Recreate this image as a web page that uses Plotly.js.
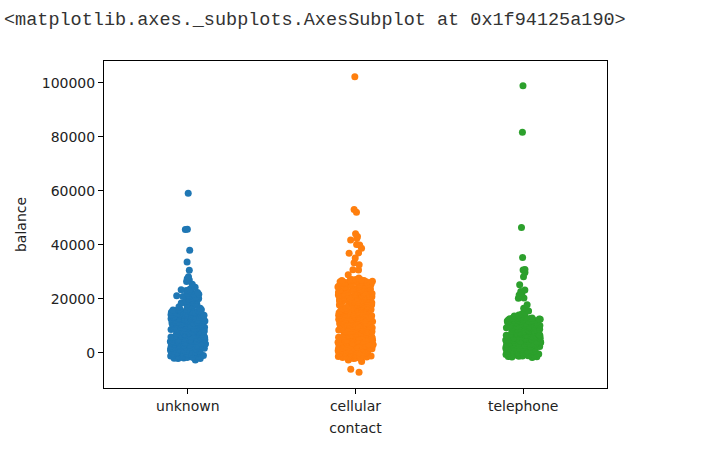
<!DOCTYPE html>
<html>
<head>
<meta charset="utf-8">
<script src="https://cdn.plot.ly/plotly-3.0.1.min.js"></script>
<style>html,body{margin:0;padding:0;background:#fff;}</style>
</head>
<body>
<div id="chart" style="width:716px;height:452px;"></div>
<script>
const categories = ['unknown', 'cellular', 'telephone'];
const colors = ['#1f77b4', '#ff7f0e', '#2ca02c'];
const yTicks = [0, 20000, 40000, 60000, 80000, 100000];

const unknownBalance = [
-2700, -2200, -2060, -1885, -1765, -1575, -1420, -1290, -1105, -960, -795, -670, -490, -340, -215, -35, 0, 0,
110, 240, 415, 560, 725, 850, 1030, 1185, 1310, 1475, 1620, 1805, 1930, 2110, 2255, 2390, 2575, 2710, 2880,
3005, 3190, 3345, 3475, 3660, 3805, 3970, 4095, 4275, 4425, 4560, 4745, 4890, 5055, 5180, 5360, 5510, 5645,
5830, 5975, 6140, 6265, 6445, 6595, 6730, 6915, 7060, 7225, 7350, 7530, 7680, 7815, 8000, 8145, 8310, 8435,
8615, 8765, 8900, 9085, 9230, 9395, 9520, 9700, 9850, 9985, 10170, 10315, 10480, 10605, 10785, 10935, 11070,
11255, 11400, 11565, 11690, 11870, 12020, 12155, 12340, 12485, 12650, 12775, 12955, 13105, 13240, 13425, 13570,
13735, 13860, 14040, 14190, 14325, 14510, 14655, 14820, 14945, 15125, 15275, 15410, 15595, 15740, 15905, 16030,
-2130, -1965, -1825, -1655, -1505, -1370, -1190, -1045, -885, -720, -580, -410, -260, -125, 55, 200, 360, 525,
665, 835, 985, 1120, 1300, 1445, 1605, 1770, 1910, 2080, 2230, 2365, 2545, 2690, 2850, 3015, 3155, 3325, 3475,
3610, 3790, 3935, 4095, 4260, 4400, 4570, 4720, 4855, 5035, 5180, 5340, 5505, 5645, 5815, 5965, 6100, 6280,
6425, 6585, 6750, 6890, 7060, 7210, 7345, 7525, 7670, 7830, 7995, 8135, 8305, 8455, 8590, 8770, 8915, 9075,
9240, 9380, 9550, 9700, 9835, 10015, 10160, 10320, 10485, 10625, 10795, 10945, 11080, 11260, 11405, 11565,
11730, 11870, 12040, 12190, 12325, 12505, 12650, 12810, 12975, 13115, 13285, 13435, 13570, 13750, 13895,
14055, 14220, 14360, 14530, 14680, 14815, 14995, 15140, 15300, 15465, 15605, 15775, 15925,
16200, 16400, 16600, 16900, 17000, 17350, 17500, 17800, 17900, 18250, 18400, 18700, 18900, 19100, 19300,
19600, 19850, 20000, 20200, 20400, 20750, 20900, 21100, 21300, 21650, 21800, 22100, 22300, 22600, 22800,
23050, 23300, 23600, 24200, 25300, 26300, 26900, 27400, 28100, 30500, 33600, 37900, 45600, 45700, 59000
];

const cellularBalance = [
-7300, -6200, -3300, -2700, -2200, -2060, -1885, -1765, -1575, -1420, -1290, -1105, -960, -795, -670, -490, -340,
-200, -25, 0, 0, 95, 250, 380, 565, 710, 875, 1000, 1180, 1330,
1470, 1645, 1765, 1955, 2110, 2240, 2425, 2570, 2735, 2860, 3040, 3190,
3330, 3505, 3625, 3815, 3970, 4100, 4285, 4430, 4595, 4720, 4900, 5050,
5190, 5365, 5485, 5675, 5830, 5960, 6145, 6290, 6455, 6580, 6760, 6910,
7050, 7225, 7345, 7535, 7690, 7820, 8005, 8150, 8315, 8440, 8620, 8770,
8910, 9085, 9205, 9395, 9550, 9680, 9865, 10010, 10175, 10300, 10480, 10630,
10770, 10945, 11065, 11255, 11410, 11540, 11725, 11870, 12035, 12160, 12340, 12490,
12630, 12805, 12925, 13115, 13270, 13400, 13585, 13730, 13895, 14020, 14200, 14350,
14490, 14665, 14785, 14975, 15130, 15260, 15445, 15590, 15755, 15880, 16060, 16210,
16350, 16525, 16645, 16835, 16990, 17120, 17305, 17450, 17615, 17740, 17920, 18070,
18210, 18385, 18505, 18695, 18850, 18980, 19165, 19310, 19475, 19600, 19780, 19930,
20070, 20245, 20365, 20555, 20710, 20840, 21025, 21170, 21335, 21460, 21640, 21790,
21930, 22105, 22225, 22415, 22570, 22700, 22885, 23030, 23195, 23320, 23500, 23650,
23790, 23965, 24085, 24275, 24430, 24560, 24745, 24890, 25055, 25180, 25360, 25510,
25650, 25825, 25945, 26135, 26290, 26420, 26605, 26750, 26915, 27040,
-2050, -1885, -1745, -1575, -1425, -1290, -1110, -965, -805, -640, -500, -330, -180, -45, 135, 280,
440, 605, 745, 915, 1065, 1200, 1380, 1525, 1685, 1850, 1990, 2160, 2310, 2445, 2625, 2770,
2930, 3095, 3235, 3405, 3555, 3690, 3870, 4015, 4175, 4340, 4480, 4650, 4800, 4935, 5115, 5260,
5420, 5585, 5725, 5895, 6045, 6180, 6360, 6505, 6665, 6830, 6970, 7140, 7290, 7425, 7605, 7750,
7910, 8075, 8215, 8385, 8535, 8670, 8850, 8995, 9155, 9320, 9460, 9630, 9780, 9915, 10095, 10240,
10400, 10565, 10705, 10875, 11025, 11160, 11340, 11485, 11645, 11810, 11950, 12120, 12270, 12405, 12585, 12730,
12890, 13055, 13195, 13365, 13515, 13650, 13830, 13975, 14135, 14300, 14440, 14610, 14760, 14895, 15075, 15220,
15380, 15545, 15685, 15855, 16005, 16140, 16320, 16465, 16625, 16790, 16930, 17100, 17250, 17385, 17565, 17710,
17870, 18035, 18175, 18345, 18495, 18630, 18810, 18955, 19115, 19280, 19420, 19590, 19740, 19875, 20055, 20200,
20360, 20525, 20665, 20835, 20985, 21120, 21300, 21445, 21605, 21770, 21910, 22080, 22230, 22365, 22545, 22690,
22850, 23015, 23155, 23325, 23475, 23610, 23790, 23935, 24095, 24260, 24400, 24570, 24720, 24855, 25035, 25180,
25340, 25505, 25645, 25815, 25965, 26100, 26280, 26425, 26585, 26750, 26890, 27060,
27600, 28800, 30600, 30700, 32500, 33300, 35000, 36800, 36900, 38700, 39900, 40000,
41700, 42400, 43000, 44000, 52000, 53000, 102127
];

const telephoneBalance = [
-1800, -1600, -1460, -1285, -1165, -975, -820, -690, -505, -360, -195, -70, 0, 0, 110,
250, 425, 545, 735, 890, 1020, 1205, 1350, 1515, 1640, 1820, 1970,
2110, 2285, 2405, 2595, 2750, 2880, 3065, 3210, 3375, 3500, 3680, 3830,
3970, 4145, 4265, 4455, 4610, 4740, 4925, 5070, 5235, 5360, 5540, 5690,
5830, 6005, 6125, 6315, 6470, 6600, 6785, 6930, 7095, 7220, 7400, 7550,
7690, 7865, 7985, 8175, 8330, 8460, 8645, 8790, 8955, 9080, 9260, 9410,
9550, 9725, 9845, 10035, 10190, 10320, 10505, 10650, 10815, 10940, 11120, 11270,
11410, 11585, 11705, 11895, 12050, 12180, 12365, 12510, 12675, 12800, 12980,
-1520, -1355, -1215, -1045, -895, -760, -580, -435, -275, -110, 30, 200, 350, 485, 665, 810,
970, 1135, 1275, 1445, 1595, 1730, 1910, 2055, 2215, 2380, 2520, 2690, 2840, 2975, 3155, 3300,
3460, 3625, 3765, 3935, 4085, 4220, 4400, 4545, 4705, 4870, 5010, 5180, 5330, 5465, 5645, 5790,
5950, 6115, 6255, 6425, 6575, 6710, 6890, 7035, 7195, 7360, 7500, 7670, 7820, 7955, 8135, 8280,
8440, 8605, 8745, 8915, 9065, 9200, 9380, 9525, 9685, 9850, 9990, 10160, 10310, 10445, 10625, 10770,
10930, 11095, 11235, 11405, 11555, 11690, 11870, 12015, 12175, 12340, 12480, 12650, 12800, 12935,
13200, 13600, 13900, 14300, 14800, 15400, 16400, 17700, 20100, 20200, 21300, 22000, 22600, 23200,
25100, 28100, 29700, 30600, 30800, 35200, 46300, 81600, 98800
];

const series = [unknownBalance, cellularBalance, telephoneBalance];

const traces = series.map((vals, i) => ({
  type: 'box',
  name: categories[i],
  x: vals.map(() => categories[i]),
  y: vals,
  boxpoints: 'all',
  jitter: 0.21,
  pointpos: 0,
  fillcolor: 'rgba(0,0,0,0)',
  line: {color: 'rgba(0,0,0,0)', width: 0},
  marker: {color: colors[i], size: 7, opacity: 1, line: {width: 0}},
  hoverinfo: 'x+y'
}));

const layout = {
  width: 716, height: 452,
  margin: {l: 104, r: 109, t: 61, b: 64},
  paper_bgcolor: '#ffffff', plot_bgcolor: '#ffffff',
  showlegend: false,
  boxmode: 'overlay', boxgap: 0, boxgroupgap: 0,
  font: {family: 'DejaVu Sans, sans-serif', size: 14, color: '#222'},
  xaxis: {
    type: 'category', categoryorder: 'array', categoryarray: categories,
    range: [-0.5, 2.5], showgrid: false, zeroline: false,
    showline: true, mirror: true, linecolor: '#000', linewidth: 1,
    ticks: 'outside', ticklen: 5, tickwidth: 1, tickcolor: '#000',
    title: {text: 'contact', standoff: 10, font: {size: 14}}
  },
  yaxis: {
    range: [-13100, 108000], showgrid: false, zeroline: false,
    showline: true, mirror: true, linecolor: '#000', linewidth: 1,
    ticks: 'outside', ticklen: 5, tickwidth: 1, tickcolor: '#000',
    tickvals: yTicks, ticktext: yTicks.map(String),
    title: {text: 'balance', standoff: 11, font: {size: 14}}
  },
  annotations: [{
    text: '&lt;matplotlib.axes._subplots.AxesSubplot at 0x1f94125a190&gt;',
    xref: 'paper', yref: 'paper', x: -0.203, y: 1.125,
    xanchor: 'left', yanchor: 'middle', showarrow: false,
    font: {family: 'Liberation Mono, monospace', size: 18.5, color: '#333'}
  }]
};

Plotly.newPlot('chart', traces, layout, {displayModeBar: false, staticPlot: true});
</script>
</body>
</html>
